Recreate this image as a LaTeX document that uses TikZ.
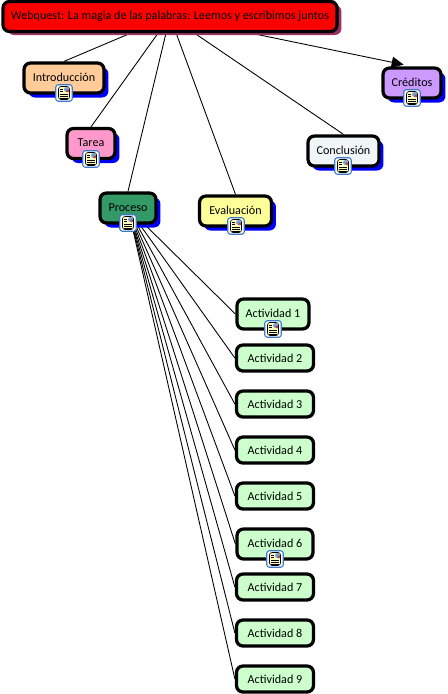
\documentclass[tikz,border=0pt]{standalone}
\usepackage{fontspec}
\setmainfont{Carlito}
\usepackage{tikz}
\usetikzlibrary{arrows.meta,shadows,backgrounds}
\definecolor{titlered}{RGB}{255,0,0}
\definecolor{titleshade}{RGB}{153,51,102}
\definecolor{shadeblue}{RGB}{0,0,255}
\definecolor{introorange}{RGB}{255,204,153}
\definecolor{tareapink}{RGB}{255,153,204}
\definecolor{procesogreen}{RGB}{51,153,102}
\definecolor{evalyellow}{RGB}{255,255,153}
\definecolor{concgray}{RGB}{240,245,247}
\definecolor{credpurple}{RGB}{204,153,255}
\definecolor{actgreen}{RGB}{204,255,204}
\definecolor{iconblue}{RGB}{60,120,200}
\definecolor{iconpaper}{RGB}{255,255,190}

\begin{document}
\begin{tikzpicture}[
    x=0.02cm, y=-0.02cm,
    box/.style={draw=black, line width=0.065cm, rounded corners=0.13cm, inner sep=0pt, align=center,
        minimum height=0.6cm, font=\fontsize{6.9}{8}\selectfont},
    topic/.style={box, text height=0.18cm, text depth=0.06cm,
        general shadow={fill=shadeblue, shadow xshift=0.09cm, shadow yshift=-0.09cm}},
    act/.style={box, fill=actgreen, minimum height=0.52cm, minimum width=1.54cm},
    link/.style={black, line width=0.5pt},
    arr/.style={link, -{Triangle[length=0.24cm, width=0.22cm]}, shorten >=0.17cm},
    docicon/.style={draw=iconblue, line width=0.6pt, fill=white, rounded corners=0.05cm, minimum size=0.33cm, inner sep=0pt,
        path picture={
            \coordinate (c) at (path picture bounding box.center);
            \draw[black, line width=0.35pt, fill=iconpaper] ([shift={(-0.11cm,-0.13cm)}]c) rectangle ([shift={(0.11cm,0.13cm)}]c);
            \fill[iconblue!70] ([shift={(0.0cm,0.02cm)}]c) rectangle ([shift={(0.1cm,0.12cm)}]c);
            \fill[red!50!gray] ([shift={(0.05cm,0.02cm)}]c) rectangle ([shift={(0.1cm,0.07cm)}]c);
            \draw[black, line width=0.25pt] ([shift={(-0.08cm,0.08cm)}]c) -- ([shift={(-0.02cm,0.08cm)}]c);
            \draw[black, line width=0.25pt] ([shift={(-0.08cm,0.03cm)}]c) -- ([shift={(-0.02cm,0.03cm)}]c);
            \draw[black, line width=0.25pt] ([shift={(-0.08cm,-0.02cm)}]c) -- ([shift={(0.08cm,-0.02cm)}]c);
            \draw[black, line width=0.25pt] ([shift={(-0.08cm,-0.06cm)}]c) -- ([shift={(0.08cm,-0.06cm)}]c);
            \draw[black, line width=0.25pt] ([shift={(-0.08cm,-0.10cm)}]c) -- ([shift={(0.08cm,-0.10cm)}]c);
        }}
]
\useasboundingbox (0,0) rectangle (447,694);

\node[box, fill=titlered, minimum width=6.68cm, general shadow={fill=titleshade, shadow xshift=0.09cm, shadow yshift=-0.07cm}] (webquest) at (170,16.5) {Webquest: La magia de las palabras: Leemos y escribimos juntos};

\node[topic, fill=introorange, minimum width=1.6cm] (intro) at (64,78) {Introducción};
\node[topic, fill=tareapink, minimum width=0.96cm] (tarea) at (91,143.5) {Tarea};
\node[topic, fill=procesogreen, minimum width=1.12cm] (proceso) at (128,208) {Proceso};
\node[topic, fill=evalyellow, minimum width=1.44cm] (evaluacion) at (235.5,211) {Evaluación};
\node[topic, fill=concgray, minimum width=1.42cm] (conclusion) at (343.5,151) {Conclusión};
\node[topic, fill=credpurple, minimum width=1.16cm] (creditos) at (412,83) {Créditos};

\node[act, minimum height=0.6cm, minimum width=1.44cm, text height=0.18cm, text depth=0.06cm] (act1) at (273,314) {Actividad 1};
\node[act] (act2) at (275,358) {Actividad 2};
\node[act] (act3) at (275,404) {Actividad 3};
\node[act] (act4) at (275,450) {Actividad 4};
\node[act] (act5) at (275,496) {Actividad 5};
\node[act, minimum height=0.6cm, minimum width=1.52cm, text height=0.18cm, text depth=0.06cm] (act6) at (275,544) {Actividad 6};
\node[act] (act7) at (275,587) {Actividad 7};
\node[act] (act8) at (275,633) {Actividad 8};
\node[act] (act9) at (275,679) {Actividad 9};

\node[docicon] (iconintro) at (64,93) {};
\node[docicon] (icontarea) at (91,159) {};
\node[docicon] (iconproceso) at (128,223) {};
\node[docicon] (iconevaluacion) at (236,226) {};
\node[docicon] (iconconclusion) at (343,166) {};
\node[docicon] (iconcreditos) at (412,98) {};
\node[docicon] (iconact1) at (273,329) {};
\node[docicon] (iconact6) at (275,559) {};

\begin{scope}[on background layer]
\draw[link] (webquest) -- (intro.north);
\draw[link] (webquest) -- (tarea.north);
\draw[link] (webquest) -- (proceso.north);
\draw[link] (webquest) -- (evaluacion.north);
\draw[link] (webquest) -- (conclusion.north);
\draw[arr] (webquest) -- (creditos.north);

\draw[link] (proceso) -- (act1.west);
\draw[link] (proceso) -- (act2.west);
\draw[link] (proceso) -- (act3.west);
\draw[link] (proceso) -- (act4.west);
\draw[link] (proceso) -- (act5.west);
\draw[link] (proceso) -- (act6.west);
\draw[link] (proceso) -- (act7.west);
\draw[link] (proceso) -- (act8.west);
\draw[link] (proceso) -- (act9.west);
\end{scope}
\end{tikzpicture}
\end{document}
